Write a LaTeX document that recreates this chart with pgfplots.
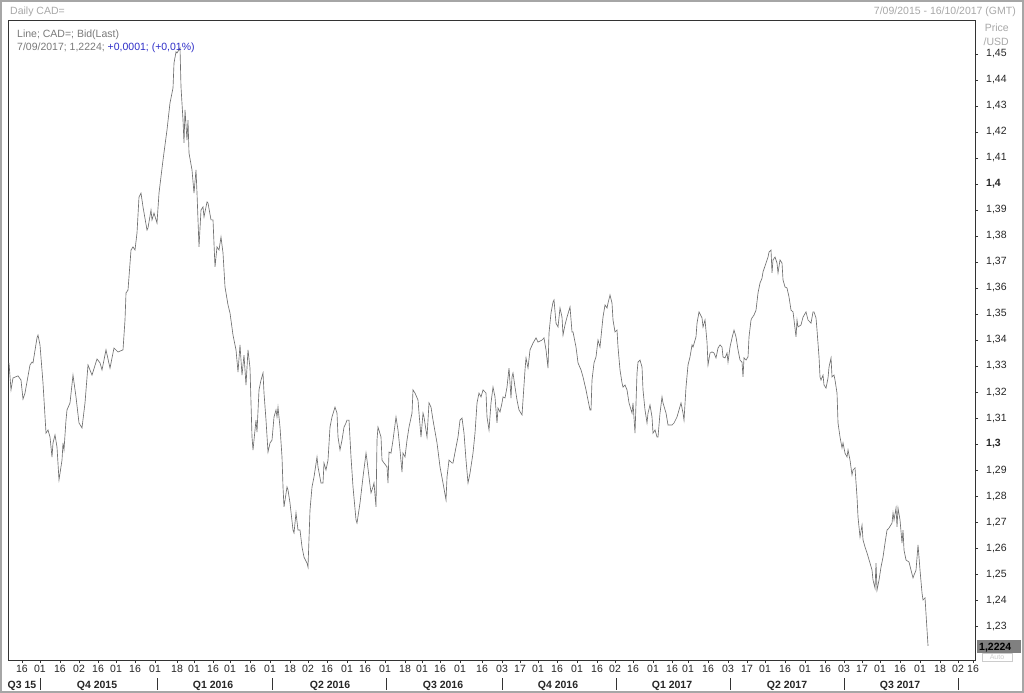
\documentclass[border=0pt]{standalone}
\usepackage{pgfplots}
\pgfplotsset{compat=1.18}
\usepackage{fontspec}
\setmainfont{Liberation Sans}
\definecolor{lightlab}{HTML}{A8A8A8}
\definecolor{annot}{HTML}{7A7A7A}
\definecolor{annblue}{HTML}{2E2EC8}
\definecolor{linegray}{HTML}{707070}
\definecolor{boxgray}{HTML}{808080}
\newcommand\fs{\fontsize{10.5bp}{12bp}\selectfont}
\begin{document}
\begin{tikzpicture}[x=1bp,y=1bp]
\fill[white] (0,0) rectangle (1024,-693);
\draw[gray!70, line width=2bp] (1,-1) rectangle (1023,-692);
\begin{axis}[at={(8bp,-660bp)}, anchor=south west, scale only axis,
  width=967bp, height=640bp,
  xmin=8, xmax=975, ymin=1.216923, ymax=1.463077,
  axis line style={black!80, line width=0.8bp},
  tick align=outside, major tick length=3bp,
  tick style={black!80, line width=0.6bp},
  xtick pos=bottom, ytick pos=right, yticklabel pos=right,
  xtick={22,40,60,79,98,116,135,155,177,194,213,230,250,270,290,308,327,347,365,385,405,422,440,460,482,502,520,538,557,577,597,615,633,653,672,688,708,728,747,765,785,805,825,844,862,880,900,920,940,958,973},
  xticklabels={16,01,16,02,16,01,16,01,18,01,16,01,16,01,18,02,16,01,16,01,18,01,16,01,16,03,17,01,16,01,16,02,16,01,16,01,16,03,17,01,16,01,16,03,17,01,16,01,18,02,16},
  ytick={1.23,1.24,1.25,1.26,1.27,1.28,1.29,1.30,1.31,1.32,1.33,1.34,1.35,1.36,1.37,1.38,1.39,1.40,1.41,1.42,1.43,1.44,1.45},
  yticklabels={{1,23},{1,24},{1,25},{1,26},{1,27},{1,28},{1,29},{\textbf{1,3}},{1,31},{1,32},{1,33},{1,34},{1,35},{1,36},{1,37},{1,38},{1,39},{\textbf{1,4}},{1,41},{1,42},{1,43},{1,44},{1,45}},
  ticklabel style={font=\fs, text=black!85},
  xticklabel style={anchor=base, inner sep=0pt, yshift=-9.5bp},
  yticklabel style={anchor=west, inner sep=0pt, xshift=8bp},
  clip=true]
\addplot[linegray, line width=0.65bp] coordinates {
(9,1.3312)(11,1.3208)(13,1.3254)(18,1.3262)(21,1.3246)(23,1.3173)(25,1.3196)(30,1.3304)(32,1.3315)(33,1.3312)
(37,1.3408)(38,1.3419)(40,1.3381)(43,1.3235)(46,1.3042)(48,1.3054)(50,1.3027)(52,1.2950)(53,1.3004)(55,1.3035)
(57,1.2988)(59,1.2862)(62,1.2938)(63,1.3004)(64,1.2977)(66,1.3092)(67,1.3131)(70,1.3158)(73,1.3265)(76,1.3181)
(79,1.3081)(82,1.3062)(85,1.3158)(88,1.3304)(92,1.3265)(97,1.3327)(100,1.3312)(102,1.3285)(106,1.3362)(110,1.3292)
(114,1.3369)(118,1.3354)(123,1.3362)(125,1.3477)(126,1.3581)(128,1.3592)(131,1.3746)(133,1.3758)(135,1.3746)(137,1.3812)
(139,1.3950)(141,1.3965)(143,1.3912)(147,1.3823)(148,1.3831)(151,1.3900)(152,1.3862)(154,1.3888)(157,1.3850)(159,1.3965)
(163,1.4092)(167,1.4208)(170,1.4312)(173,1.4369)(174,1.4465)(176,1.4508)(177,1.4504)(180,1.4523)(181,1.4373)(183,1.4246)
(184,1.4158)(185,1.4285)(187,1.4169)(188,1.4246)(189,1.4119)(192,1.4054)(194,1.3965)(196,1.4054)(197,1.3965)(199,1.3758)
(201,1.3900)(203,1.3912)(204,1.3873)(207,1.3931)(208,1.3927)(211,1.3862)(213,1.3862)(215,1.3681)(217,1.3758)(219,1.3746)
(221,1.3796)(223,1.3735)(225,1.3604)(228,1.3535)(230,1.3504)(233,1.3419)(236,1.3362)(238,1.3277)(240,1.3381)(242,1.3265)
(244,1.3342)(246,1.3227)(248,1.3362)(250,1.3292)(251,1.3158)(252,1.3027)(253,1.2977)(254,1.3015)(256,1.3092)(257,1.3046)
(259,1.3208)(261,1.3246)(263,1.3273)(264,1.3196)(266,1.3092)(268,1.2969)(270,1.3004)(272,1.3015)(274,1.3104)(276,1.3131)
(277,1.3104)(278,1.3142)(280,1.3065)(282,1.2950)(283,1.2835)(284,1.2758)(287,1.2835)(288,1.2823)(290,1.2773)(293,1.2669)
(294,1.2658)(296,1.2735)(298,1.2669)(300,1.2669)(302,1.2604)(304,1.2565)(307,1.2542)(308,1.2527)(310,1.2746)(312,1.2835)
(314,1.2873)(317,1.2950)(318,1.2912)(321,1.2850)(323,1.2850)(324,1.2927)(326,1.2900)(328,1.2938)(330,1.3065)(332,1.3104)
(335,1.3142)(337,1.3119)(338,1.3027)(340,1.2977)(342,1.3015)(344,1.3065)(346,1.3081)(347,1.3092)(349,1.3092)(351,1.2950)
(353,1.2835)(356,1.2708)(357,1.2696)(360,1.2773)(363,1.2873)(366,1.2965)(367,1.2938)(369,1.2873)(371,1.2812)(373,1.2835)
(374,1.2850)(376,1.2758)(377,1.3015)(378,1.3065)(381,1.3027)(382,1.2938)(384,1.2927)(387,1.2912)(388,1.2850)(389,1.2969)
(391,1.2965)(393,1.3015)(396,1.3104)(398,1.3054)(400,1.2977)(402,1.2892)(403,1.2965)(405,1.2950)(407,1.3015)(409,1.3065)
(412,1.3119)(413,1.3208)(415,1.3196)(418,1.3169)(419,1.3119)(421,1.3027)(423,1.3119)(424,1.3104)(427,1.3027)(429,1.3158)
(431,1.3142)(433,1.3092)(437,1.3004)(440,1.2912)(443,1.2850)(446,1.2785)(447,1.2873)(449,1.2938)(452,1.2927)(453,1.2927)
(456,1.2988)(458,1.3027)(460,1.3092)(462,1.3100)(464,1.3042)(466,1.2938)(468,1.2850)(470,1.2888)(473,1.2965)(475,1.3042)
(477,1.3158)(479,1.3196)(481,1.3181)(483,1.3208)(486,1.3196)(487,1.3104)(489,1.3054)(491,1.3158)(493,1.3219)(495,1.3181)
(497,1.3081)(498,1.3138)(500,1.3123)(502,1.3158)(503,1.3181)(505,1.3177)(507,1.3219)(509,1.3292)(511,1.3177)(512,1.3258)
(513,1.3273)(515,1.3219)(517,1.3169)(519,1.3131)(522,1.3112)(523,1.3169)(525,1.3285)(526,1.3331)(528,1.3292)(530,1.3362)
(533,1.3388)(536,1.3408)(538,1.3392)(542,1.3400)(544,1.3408)(546,1.3362)(548,1.3292)(549,1.3427)(551,1.3504)(553,1.3546)
(554,1.3554)(556,1.3465)(558,1.3450)(560,1.3523)(562,1.3488)(563,1.3419)(565,1.3458)(567,1.3488)(570,1.3527)(572,1.3431)
(573,1.3431)(576,1.3373)(578,1.3312)(581,1.3285)(583,1.3258)(586,1.3208)(588,1.3169)(590,1.3131)(591,1.3131)(592,1.3246)
(594,1.3312)(596,1.3335)(598,1.3400)(600,1.3373)(602,1.3450)(603,1.3488)(605,1.3535)(607,1.3523)(608,1.3542)(610,1.3573)
(612,1.3542)(613,1.3477)(615,1.3431)(617,1.3438)(618,1.3373)(620,1.3285)(622,1.3235)(623,1.3219)(625,1.3227)(627,1.3208)
(629,1.3158)(632,1.3119)(633,1.3158)(635,1.3042)(637,1.3273)(638,1.3315)(640,1.3323)(642,1.3296)(643,1.3208)(645,1.3131)
(647,1.3081)(648,1.3119)(650,1.3150)(652,1.3104)(653,1.3042)(655,1.3054)(657,1.3027)(658,1.3027)(660,1.3119)(662,1.3181)
(663,1.3158)(666,1.3119)(668,1.3073)(672,1.3073)(674,1.3081)(677,1.3104)(679,1.3131)(681,1.3158)(683,1.3119)(684,1.3092)
(686,1.3219)(688,1.3304)(690,1.3335)(692,1.3381)(693,1.3373)(696,1.3412)(697,1.3465)(699,1.3508)(702,1.3485)(703,1.3450)
(705,1.3477)(707,1.3392)(708,1.3304)(710,1.3350)(712,1.3354)(714,1.3350)(716,1.3331)(718,1.3369)(720,1.3381)(722,1.3373)
(723,1.3335)(725,1.3331)(727,1.3350)(728,1.3315)(730,1.3373)(732,1.3408)(734,1.3438)(736,1.3412)(738,1.3362)(740,1.3323)
(742,1.3315)(743,1.3258)(744,1.3331)(746,1.3323)(748,1.3335)(749,1.3412)(751,1.3477)(752,1.3485)(754,1.3496)(756,1.3515)
(758,1.3581)(760,1.3619)(762,1.3638)(763,1.3662)(766,1.3696)(768,1.3719)(769,1.3738)(771,1.3746)(772,1.3658)(773,1.3708)
(775,1.3719)(777,1.3696)(778,1.3658)(780,1.3708)(782,1.3696)(783,1.3631)(785,1.3604)(787,1.3600)(789,1.3565)(791,1.3515)
(793,1.3508)(794,1.3477)(796,1.3412)(797,1.3477)(798,1.3450)(801,1.3458)(803,1.3488)(806,1.3508)(808,1.3477)(811,1.3465)
(813,1.3508)(814,1.3508)(816,1.3485)(817,1.3438)(819,1.3335)(820,1.3258)(821,1.3246)(823,1.3265)(824,1.3227)(826,1.3215)
(828,1.3254)(829,1.3296)(831,1.3331)(832,1.3258)(834,1.3265)(835,1.3246)(837,1.3196)(838,1.3081)(840,1.3027)(842,1.2985)
(843,1.3004)(845,1.2965)(847,1.2950)(848,1.2977)(850,1.2938)(852,1.2881)(853,1.2900)(855,1.2908)(857,1.2796)(858,1.2719)
(860,1.2642)(862,1.2688)(863,1.2631)(865,1.2604)(867,1.2581)(870,1.2542)(872,1.2515)(873,1.2477)(875,1.2446)(876,1.2542)
(877,1.2438)(879,1.2477)(881,1.2527)(883,1.2565)(885,1.2619)(887,1.2669)(889,1.2677)(892,1.2696)(893,1.2735)(894,1.2708)
(896,1.2754)(897,1.2681)(898,1.2754)(900,1.2708)(902,1.2619)(903,1.2669)(904,1.2592)(906,1.2554)(909,1.2546)(911,1.2515)
(913,1.2485)(914,1.2496)(916,1.2515)(918,1.2612)(920,1.2515)(922,1.2427)(923,1.2400)(925,1.2408)(927,1.2285)(928,1.2224)
};
\end{axis}
% header texts
\node[anchor=base west, inner sep=0pt, text=lightlab, font=\fs] at (10,-14.5) {Daily CAD=};
\node[anchor=base east, inner sep=0pt, text=lightlab, font=\fs] at (1016,-14.5) {7/09/2015 - 16/10/2017 (GMT)};
\node[anchor=base east, inner sep=0pt, text=lightlab, font=\fs] at (1009,-31.5) {Price};
\node[anchor=base east, inner sep=0pt, text=lightlab, font=\fs] at (1009,-45.5) {/USD};
\node[anchor=base west, inner sep=0pt, text=annot, font=\fs] at (17,-37.5) {Line; CAD=; Bid(Last)};
\node[anchor=base west, inner sep=0pt, text=annot, font=\fs] at (17,-50.5) {7/09/2017; 1,2224; \textcolor{annblue}{+0,0001; (+0,01\%)}};
% last value box
\fill[boxgray] (977,-639.5) rectangle (1021,-652.5);
\node[anchor=base west, inner sep=0pt, font=\fs\bfseries, text=black] at (979,-650) {1,2224};
\draw[gray!40, line width=0.6bp] (982,-653) rectangle (1012,-661);
\node[anchor=base, inner sep=0pt, font=\fontsize{7bp}{8bp}\selectfont, text=gray!40] at (997,-659.5) {Auto};
% quarter labels
\foreach \xx/\lab in {22/Q3 15,97/Q4 2015,213/Q1 2016,330/Q2 2016,443/Q3 2016,558/Q4 2016,672/Q1 2017,787/Q2 2017,900/Q3 2017}
  \node[anchor=base, inner sep=0pt, font=\fs\bfseries, text=black!85] at (\xx,-688) {\lab};
\foreach \xx in {40,157,272,386,502,616,730,844,958}
  \draw[black!80, line width=0.8bp] (\xx,-678) -- (\xx,-690);
\pgfresetboundingbox
\useasboundingbox (0,0) rectangle (1024,-693);
\end{tikzpicture}
\end{document}
